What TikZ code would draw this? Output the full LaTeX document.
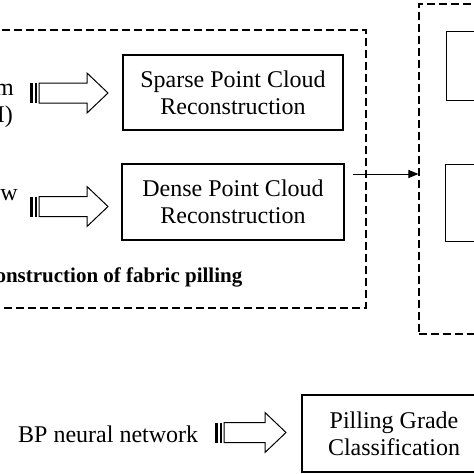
\documentclass[tikz,border=0pt]{standalone}
\usepackage{fontspec}
\setmainfont{Liberation Serif}
\usepackage{tikz}
\usetikzlibrary{arrows.meta}

\tikzset{
  stagebox/.style={draw, line width=1.3pt, align=center, inner sep=0pt,
    font=\fontsize{24}{27}\selectfont},
  groupbox/.style={draw, line width=1.1pt, dash pattern=on 8pt off 4pt, inner sep=0pt},
  sidetext/.style={inner sep=0pt, font=\fontsize{24}{27}\selectfont},
  pics/stripe arrow/.style={code={
    \fill (0,-10) rectangle (3.2,10);
    \fill (5,-10) rectangle (6.6,10);
    \draw[line width=1pt, line join=miter]
      (9,-10) -- (#1-21,-10) -- (#1-21,-20) -- (#1,0)
      -- (#1-21,20) -- (#1-21,10) -- (9,10) -- cycle;
  }}
}

\begin{document}
\begin{tikzpicture}[x=1pt, y=-1pt]
  \path[use as bounding box, clip] (0,0) rectangle (474,474);
  \fill[white] (0,0) rectangle (474,474);

  % reconstruction group
  \node[groupbox, minimum width=386pt, minimum height=278pt] (lgroup) at (173,169) {};
  \node[stagebox, minimum width=220pt, minimum height=75pt] (sparse) at (233,92.5)
    {Sparse Point Cloud\\Reconstruction};
  \node[stagebox, minimum width=222pt, minimum height=76pt] (dense) at (233,202)
    {Dense Point Cloud\\Reconstruction};
  \node[sidetext, anchor=base east] (sfmtop) at (14,95) {from};
  \node[sidetext, anchor=base east] (sfmbot) at (13,122) {(SfM)};
  \node[sidetext, anchor=base east] (mvs) at (18,200) {view};
  \pic (arrsparse) at (30,93) {stripe arrow=78};
  \pic (arrdense) at (30,206.5) {stripe arrow=78};
  \node[inner sep=0pt, anchor=base east, font=\fontsize{21}{24}\selectfont\bfseries]
    (grouplabel) at (242.5,282) {reconstruction of fabric pilling};

  % feature group
  \node[groupbox, minimum width=101pt, minimum height=330pt] (rgroup) at (469.5,169) {};
  \node[stagebox, minimum width=80pt, minimum height=69pt, anchor=north west] (feat) at (446,31) {};
  \node[stagebox, minimum width=80pt, minimum height=77pt, anchor=north west] (featb) at (445,164) {};

  \coordinate (fork) at (353,174);
  \draw[-{Triangle[length=10pt,width=8pt]}, line width=1pt] (fork) -- (fork -| rgroup.west);

  % classification
  \node[sidetext, anchor=base west] (bpnn) at (18,442) {BP neural network};
  \pic (arrbp) at (215,432.5) {stripe arrow=71};
  \node[stagebox, minimum width=184pt, minimum height=77pt] (grade) at (394,433.5)
    {Pilling Grade\\Classification};
\end{tikzpicture}
\end{document}
